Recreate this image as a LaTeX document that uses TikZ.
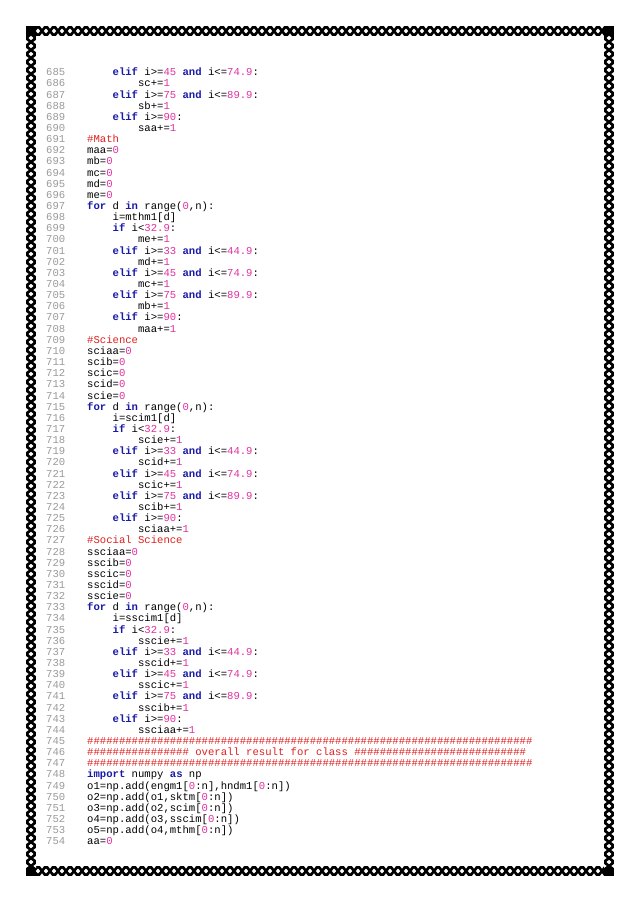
\documentclass[tikz,border=0pt]{standalone}
\usepackage{fontspec}
\setmonofont{Liberation Mono}
\usepackage{xcolor}
\definecolor{kw}{HTML}{1A1AA6}
\definecolor{num}{HTML}{E0309F}
\definecolor{cmt}{HTML}{E0201F}
\definecolor{lnum}{HTML}{9A9A9A}
\newcommand\K[1]{\textcolor{kw}{\bfseries #1}}
\newcommand\N[1]{\textcolor{num}{#1}}
\newcommand\C[1]{\textcolor{cmt}{#1}}
\newcommand\hashes[1]{\foreach \k in {1,...,#1}{\#}}
\tikzset{codetxt/.style={anchor=base west,inner sep=0pt,font=\ttfamily\fontsize{10.6}{12}\selectfont},
lntxt/.style={codetxt,text=lnum}}
\newcommand\Ln[3]{%
\node[lntxt] (n#1) at (46,{-(75.8+11.145*(#1-685))}) {#1};
\node[codetxt] (c#1) at ({87+6.36*#2},{-(75.8+11.145*(#1-685))}) {#3};}
\begin{document}
\begin{tikzpicture}[x=1pt,y=1pt]
\useasboundingbox (0,0) rectangle (638,-902);
\fill[white] (0,0) rectangle (638,-902);
% border
\fill[black] (26,-26) rectangle (614,-876);
\foreach \x in {38,46,...,602}{
 \foreach \c in {-31,-871}{
 \fill[white] (\x,\c+2.4) -- (\x+2.2,\c) -- (\x,\c-2.4) -- (\x-2.2,\c) -- cycle;
 \fill[white] (\x+2,\c+5) -- (\x+6,\c+5) -- (\x+4,\c+2.4) -- cycle;
 \fill[white] (\x+2,\c-5) -- (\x+6,\c-5) -- (\x+4,\c-2.4) -- cycle;}}
\foreach \y in {-38,-46,...,-864}{
 \foreach \c in {31,609}{
 \fill[white] (\c+2.4,\y) -- (\c,\y+2.2) -- (\c-2.4,\y) -- (\c,\y-2.2) -- cycle;
 \fill[white] (\c+5,\y-2) -- (\c+5,\y-6) -- (\c+2.4,\y-4) -- cycle;
 \fill[white] (\c-5,\y-2) -- (\c-5,\y-6) -- (\c-2.4,\y-4) -- cycle;}}
\fill[white] (36,-36) rectangle (604,-866);
\Ln{685}{4}{\K{elif} i>=\N{45} \K{and} i<=\N{74.9}:}
\Ln{686}{8}{sc+=\N{1}}
\Ln{687}{4}{\K{elif} i>=\N{75} \K{and} i<=\N{89.9}:}
\Ln{688}{8}{sb+=\N{1}}
\Ln{689}{4}{\K{elif} i>=\N{90}:}
\Ln{690}{8}{saa+=\N{1}}
\Ln{691}{0}{\C{\#Math}}
\Ln{692}{0}{maa=\N{0}}
\Ln{693}{0}{mb=\N{0}}
\Ln{694}{0}{mc=\N{0}}
\Ln{695}{0}{md=\N{0}}
\Ln{696}{0}{me=\N{0}}
\Ln{697}{0}{\K{for} d \K{in} range(\N{0},n):}
\Ln{698}{4}{i=mthm1[d]}
\Ln{699}{4}{\K{if} i<\N{32.9}:}
\Ln{700}{8}{me+=\N{1}}
\Ln{701}{4}{\K{elif} i>=\N{33} \K{and} i<=\N{44.9}:}
\Ln{702}{8}{md+=\N{1}}
\Ln{703}{4}{\K{elif} i>=\N{45} \K{and} i<=\N{74.9}:}
\Ln{704}{8}{mc+=\N{1}}
\Ln{705}{4}{\K{elif} i>=\N{75} \K{and} i<=\N{89.9}:}
\Ln{706}{8}{mb+=\N{1}}
\Ln{707}{4}{\K{elif} i>=\N{90}:}
\Ln{708}{8}{maa+=\N{1}}
\Ln{709}{0}{\C{\#Science}}
\Ln{710}{0}{sciaa=\N{0}}
\Ln{711}{0}{scib=\N{0}}
\Ln{712}{0}{scic=\N{0}}
\Ln{713}{0}{scid=\N{0}}
\Ln{714}{0}{scie=\N{0}}
\Ln{715}{0}{\K{for} d \K{in} range(\N{0},n):}
\Ln{716}{4}{i=scim1[d]}
\Ln{717}{4}{\K{if} i<\N{32.9}:}
\Ln{718}{8}{scie+=\N{1}}
\Ln{719}{4}{\K{elif} i>=\N{33} \K{and} i<=\N{44.9}:}
\Ln{720}{8}{scid+=\N{1}}
\Ln{721}{4}{\K{elif} i>=\N{45} \K{and} i<=\N{74.9}:}
\Ln{722}{8}{scic+=\N{1}}
\Ln{723}{4}{\K{elif} i>=\N{75} \K{and} i<=\N{89.9}:}
\Ln{724}{8}{scib+=\N{1}}
\Ln{725}{4}{\K{elif} i>=\N{90}:}
\Ln{726}{8}{sciaa+=\N{1}}
\Ln{727}{0}{\C{\#Social Science}}
\Ln{728}{0}{ssciaa=\N{0}}
\Ln{729}{0}{sscib=\N{0}}
\Ln{730}{0}{sscic=\N{0}}
\Ln{731}{0}{sscid=\N{0}}
\Ln{732}{0}{sscie=\N{0}}
\Ln{733}{0}{\K{for} d \K{in} range(\N{0},n):}
\Ln{734}{4}{i=sscim1[d]}
\Ln{735}{4}{\K{if} i<\N{32.9}:}
\Ln{736}{8}{sscie+=\N{1}}
\Ln{737}{4}{\K{elif} i>=\N{33} \K{and} i<=\N{44.9}:}
\Ln{738}{8}{sscid+=\N{1}}
\Ln{739}{4}{\K{elif} i>=\N{45} \K{and} i<=\N{74.9}:}
\Ln{740}{8}{sscic+=\N{1}}
\Ln{741}{4}{\K{elif} i>=\N{75} \K{and} i<=\N{89.9}:}
\Ln{742}{8}{sscib+=\N{1}}
\Ln{743}{4}{\K{elif} i>=\N{90}:}
\Ln{744}{8}{ssciaa+=\N{1}}
\Ln{745}{0}{\C{\hashes{70}}}
\Ln{746}{0}{\C{\hashes{16} overall result for class \hashes{27}}}
\Ln{747}{0}{\C{\hashes{70}}}
\Ln{748}{0}{\K{import} numpy \K{as} np}
\Ln{749}{0}{o1=np.add(engm1[\N{0}:n],hndm1[\N{0}:n])}
\Ln{750}{0}{o2=np.add(o1,sktm[\N{0}:n])}
\Ln{751}{0}{o3=np.add(o2,scim[\N{0}:n])}
\Ln{752}{0}{o4=np.add(o3,sscim[\N{0}:n])}
\Ln{753}{0}{o5=np.add(o4,mthm[\N{0}:n])}
\Ln{754}{0}{aa=\N{0}}
\end{tikzpicture}
\end{document}
